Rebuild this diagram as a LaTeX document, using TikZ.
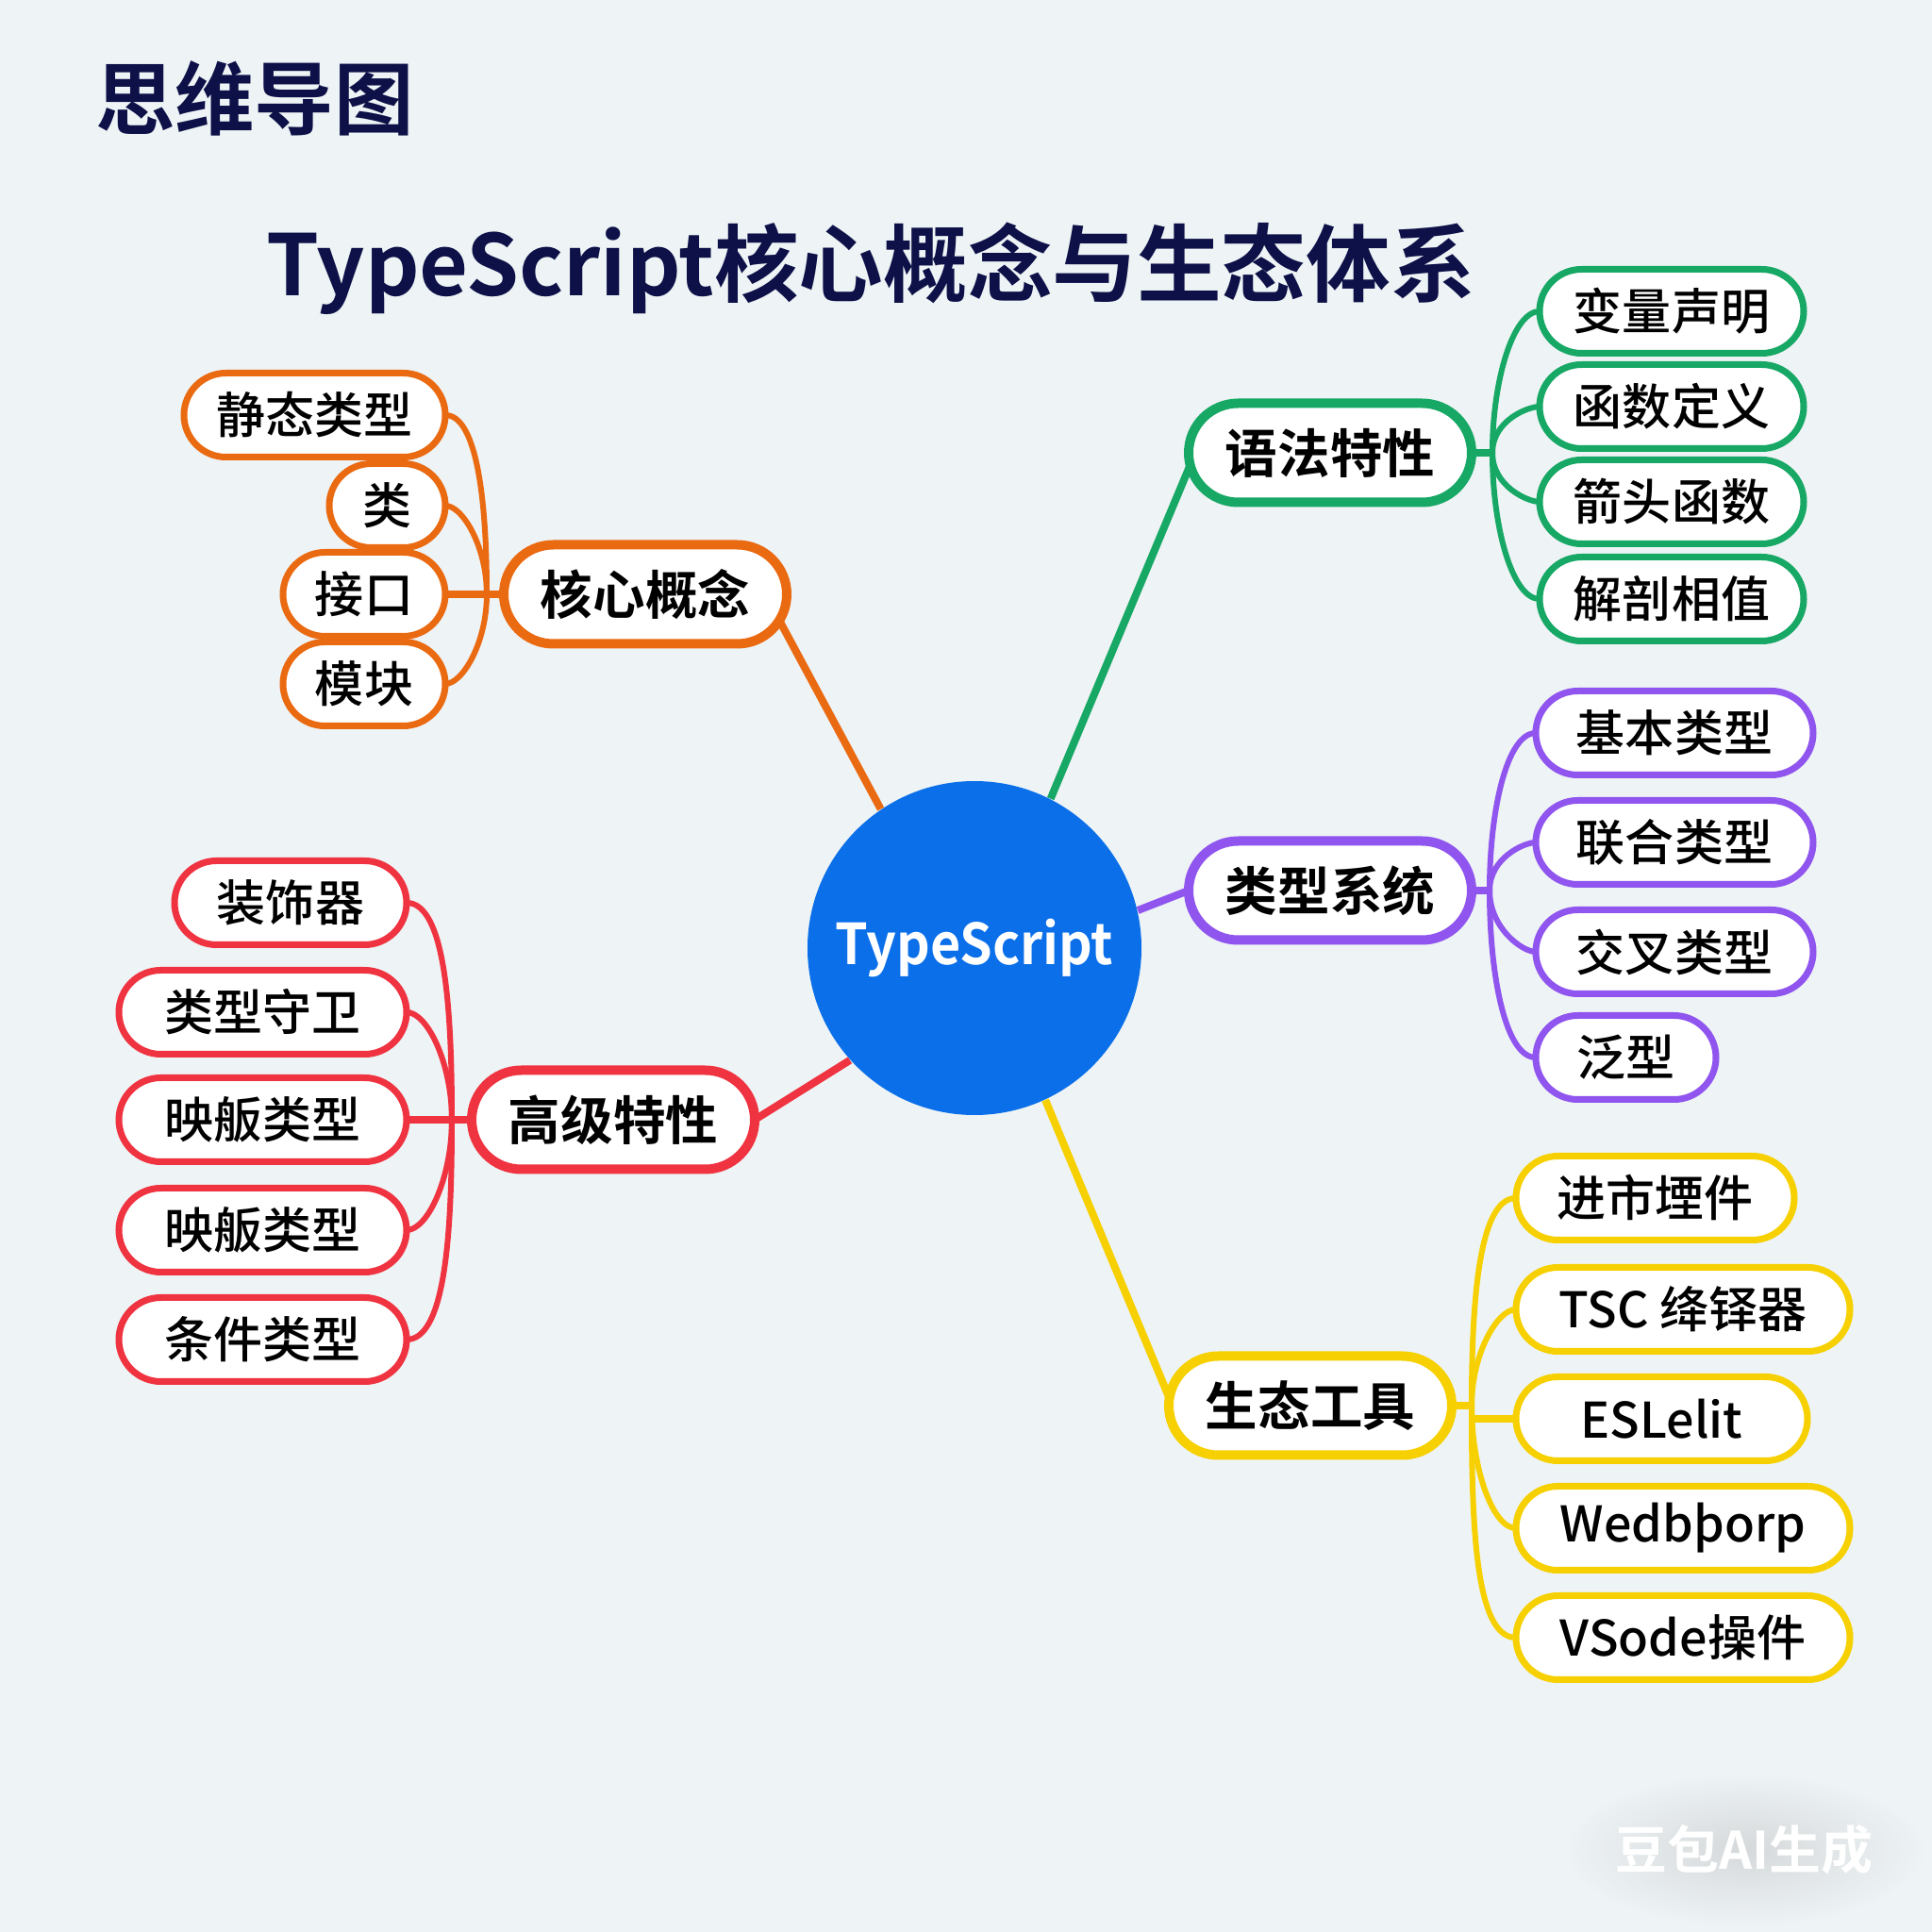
\documentclass[tikz,border=0pt]{standalone}
\usepackage{fontspec}
\setmainfont{Noto Sans CJK SC}[BoldFont={Noto Sans CJK SC Bold}]
\newfontfamily\leaffont{Noto Sans CJK SC}[UprightFont={* Medium}]
\usepackage{xcolor}
\usetikzlibrary{shapes.misc,fadings}

\definecolor{bgcol}{HTML}{EEF3F5}
\definecolor{inkcol}{HTML}{0D1148}
\definecolor{rootcol}{HTML}{0A6FE9}
\definecolor{orangecol}{HTML}{EA6A12}
\definecolor{redcol}{HTML}{EF3340}
\definecolor{greencol}{HTML}{17A865}
\definecolor{purplecol}{HTML}{8F55EE}
\definecolor{yellowcol}{HTML}{F6D000}

\tikzset{
  pill/.style={rounded rectangle,fill=white,inner sep=0pt,outer sep=0pt},
  leafbox/.style={pill,line width=0.07cm,minimum height=0.89cm,font=\leaffont\fontsize{14.8}{16}\selectfont},
  topicbox/.style={pill,line width=0.1cm,minimum height=1.05cm,minimum width=3.0cm,font=\fontsize{15.8}{18}\bfseries\selectfont},
  link/.style={line width=0.08cm},
  twig/.style={line width=0.06cm,out looseness=1.25,in looseness=0.45}
}
\tikzfading[name=haze,inner color=transparent!75,outer color=transparent!100]

\begin{document}
\begin{tikzpicture}

\useasboundingbox (0,0) rectangle (20.48,20.48);
\fill[bgcol] (0,0) rectangle (20.48,20.48);

% headings
\node[text=inkcol,font=\fontsize{24}{28}\bfseries\selectfont] (heading) at (2.70,19.44) {思维导图};
\node[text=inkcol,font=\fontsize{25.5}{30}\bfseries\selectfont] (title) at (9.23,17.63) {TypeScript核心概念与生态体系};

% centre and topics
\node[circle,fill=rootcol,minimum size=3.54cm,inner sep=0pt,text=white,font=\fontsize{17}{20}\bfseries\selectfont] (root) at (10.33,10.43) {\raisebox{-0.1cm}{\scalebox{0.93}[1]{TypeScript}}};
\node[topicbox,draw=greencol] (syntax) at (14.10,15.68) {语法特性};
\node[topicbox,draw=purplecol] (types) at (14.10,11.04) {类型系统};
\node[topicbox,draw=yellowcol] (tools) at (13.89,5.58) {生态工具};
\node[topicbox,draw=orangecol] (core) at (6.84,14.18) {核心概念};
\node[topicbox,draw=redcol] (adv) at (6.50,8.61) {高级特性};

% leaves
\foreach \name/\x/\y/\w/\txt in {
    decl/17.72/17.18/2.84/变量声明,
    func/17.72/16.17/2.84/函数定义,
    arrow/17.72/15.16/2.84/箭头函数,
    destr/17.72/14.13/2.84/解剖相值}
  \node[leafbox,draw=greencol,minimum width=\w cm-0.04cm] (\name) at (\x,\y) {\txt};

\foreach \name/\x/\y/\w/\txt in {
    basic/17.75/12.71/2.98/基本类型,
    union/17.75/11.55/2.98/联合类型,
    inter/17.75/10.39/2.98/交叉类型,
    gener/17.235/9.27/1.95/泛型}
  \node[leafbox,draw=purplecol,minimum width=\w cm-0.04cm] (\name) at (\x,\y) {\txt};

\foreach \name/\x/\y/\w/\txt in {
    mid/17.545/7.78/2.99/进市堙件,
    tsc/17.84/6.60/3.58/TSC 绛铎器,
    esl/17.615/5.44/3.13/ESLelit,
    web/17.84/4.28/3.58/Wedbþorp,
    vsc/17.84/3.12/3.58/VSode操件}
  \node[leafbox,draw=yellowcol,minimum width=\w cm-0.04cm] (\name) at (\x,\y) {\txt};

\foreach \name/\x/\y/\w/\txt in {
    stat/3.335/16.08/2.81/静态类型,
    cls/4.105/15.12/1.27/类,
    iface/3.86/14.18/1.76/接口,
    mods/3.86/13.23/1.76/模块}
  \node[leafbox,draw=orangecol,minimum width=\w cm-0.04cm] (\name) at (\x,\y) {\txt};

\foreach \name/\x/\y/\w/\txt in {
    deco/3.08/10.91/2.50/装饰器,
    guard/2.785/9.75/3.09/类型守卫,
    mapa/2.785/8.61/3.09/映舨类型,
    mapb/2.785/7.44/3.09/映舨类型,
    cond/2.785/6.28/3.09/条件类型}
  \node[leafbox,draw=redcol,minimum width=\w cm-0.04cm] (\name) at (\x,\y) {\txt};

% links from the centre
\draw[link,greencol] (root.63) -- (syntax.185);
\draw[link,purplecol] (root.13) -- (types.west);
\draw[link,yellowcol] (root.-65) -- (tools.177);
\draw[link,orangecol] (root.124) -- (core.-11);
\draw[link,redcol] (root.222) -- (adv.east);

% forks
\coordinate (syntaxfork) at (15.82,15.68);
\coordinate (typesfork) at (15.79,11.04);
\coordinate (toolsfork) at (15.60,5.58);
\coordinate (corefork) at (5.16,14.18);
\coordinate (advfork) at (4.79,8.61);

\draw[link,greencol] (syntax.east) -- (syntaxfork);
\foreach \leaf/\o in {decl/90,func/90,arrow/-90,destr/-90}
  \draw[twig,greencol] (syntaxfork) to[out=\o,in=180] (\leaf.west);

\draw[link,purplecol] (types.east) -- (typesfork);
\foreach \leaf/\o in {basic/90,union/90,inter/-90,gener/-90}
  \draw[twig,purplecol] (typesfork) to[out=\o,in=180] (\leaf.west);

\draw[link,yellowcol] (tools.east) -- (toolsfork);
\foreach \leaf/\o in {mid/90,tsc/90,web/-90,vsc/-90}
  \draw[twig,yellowcol] (toolsfork) to[out=\o,in=180] (\leaf.west);
\draw[link,yellowcol] (esl.west) -- (esl.west -| toolsfork);

\draw[link,orangecol] (core.west) -- (iface.east);
\foreach \leaf/\o in {stat/90,cls/90,mods/-90}
  \draw[twig,orangecol] (corefork) to[out=\o,in=0] (\leaf.east);

\draw[link,redcol] (adv.west) -- (mapa.east);
\foreach \leaf/\o in {deco/90,guard/90,mapb/-90,cond/-90}
  \draw[twig,redcol] (advfork) to[out=\o,in=0] (\leaf.east);

% watermark
\fill[black!45,path fading=haze] (18.49,0.87) ellipse (1.9 and 0.8);
\node[text=white,font=\fontsize{15.6}{18}\bfseries\selectfont] (mark) at (18.49,0.87) {豆包AI生成};

\end{tikzpicture}
\end{document}
